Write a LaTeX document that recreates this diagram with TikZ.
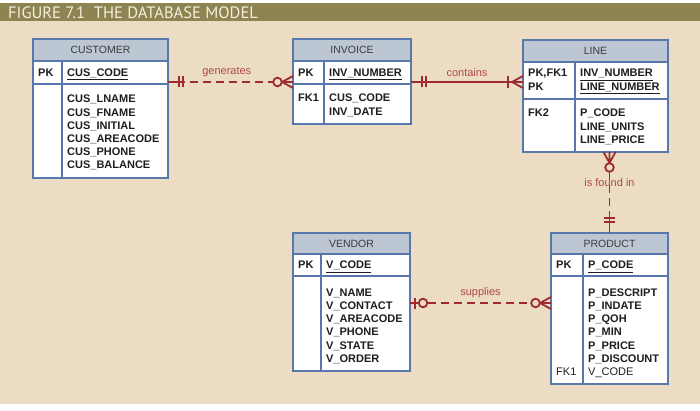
\documentclass[tikz,border=0pt]{standalone}
\usepackage{fontspec}
\setmainfont{Liberation Sans}
\newfontfamily\titlefont{PT Sans}
\usetikzlibrary{calc}
\definecolor{bg}{HTML}{EBDCC3}
\definecolor{olivebar}{HTML}{8E8452}
\definecolor{titletxt}{HTML}{F4EEDC}
\definecolor{tblue}{HTML}{5877AC}
\definecolor{tgray}{HTML}{BCC7D3}
\definecolor{relred}{HTML}{9E2B2E}
\definecolor{lblred}{HTML}{B0484A}
\definecolor{txt}{HTML}{1E1E1E}
\definecolor{hdr}{HTML}{3C3C3C}
\begin{document}
\begin{tikzpicture}[x=1pt,y=-1pt,
  tbl/.style={draw=tblue, line width=1.4pt, inner sep=0pt, outer sep=0pt, anchor=north west},
  ttl/.style={tbl, fill=tgray, font=\fontsize{10.5}{12}\selectfont, text=hdr},
  cell/.style={tbl, fill=white},
  divline/.style={draw=tblue, line width=1.4pt},
  attr/.style={font=\fontsize{11}{13}\selectfont\bfseries, text=txt, inner sep=0pt, anchor=base west},
  attrn/.style={font=\fontsize{11}{13}\selectfont, text=txt, inner sep=0pt, anchor=base west},
  lbl/.style={font=\fontsize{11}{13}\selectfont, text=lblred, inner sep=0pt},
  rel/.style={draw=relred, line width=1.8pt},
  reld/.style={rel, dash pattern=on 8pt off 5pt},
  pics/manyzero/.style={code={
     \draw[rel] (-11,0) -- (0,-6) (-11,0) -- (0,0) (-11,0) -- (0,6);
     \draw[rel, fill=bg] (-15.5,0) circle[radius=4.3];}},
  pics/manyone/.style={code={
     \draw[rel] (-11,0) -- (0,-6) (-11,0) -- (0,6);
     \draw[rel] (-15,-6) -- (-15,6);}},
  pics/oneone/.style={code={
     \draw[rel] (-11,-5.5) -- (-11,5.5) (-15,-5.5) -- (-15,5.5);}},
  pics/zeroone/.style={code={
     \draw[rel] (-5,-5.5) -- (-5,5.5);
     \draw[rel, fill=bg] (-13,0) circle[radius=4.3];}},
]
\useasboundingbox (0,0) rectangle (700,411);
\fill[white] (0,0) rectangle (700,411);
\fill[bg] (0,21) rectangle (700,404);
\fill[olivebar] (0,3) rectangle (700,21);
\node[font=\titlefont\fontsize{16.5}{18}\selectfont, text=titletxt, anchor=west, inner sep=0pt] (title) at (8,12.5) {FIGURE 7.1\ \ THE DATABASE MODEL};

% CUSTOMER
\node[ttl, minimum width=135pt, minimum height=22pt] (custT) at (33,39) {CUSTOMER};
\node[cell, minimum width=135pt, minimum height=23pt] (custK) at (custT.south west) {};
\node[cell, minimum width=135pt, minimum height=94pt] (custB) at (custK.south west) {};
\draw[divline] ($(custK.north west)+(29,0)$) -- ($(custB.south west)+(29,0)$);
\node[attr] (custPK) at (38,76.5) {PK};
\node[attr] (custKey) at (67,76.5) {\underline{CUS\_CODE}};
\foreach \nm [count=\i from 0] in {CUS\_LNAME,CUS\_FNAME,CUS\_INITIAL,CUS\_AREACODE,CUS\_PHONE,CUS\_BALANCE}
  \node[attr] (cust\i) at (67,103+13.2*\i) {\nm};

% INVOICE
\node[ttl, minimum width=118pt, minimum height=22pt] (invT) at (293,39) {INVOICE};
\node[cell, minimum width=118pt, minimum height=23pt] (invK) at (invT.south west) {};
\node[cell, minimum width=118pt, minimum height=40pt] (invB) at (invK.south west) {};
\draw[divline] ($(invK.north west)+(31,0)$) -- ($(invB.south west)+(31,0)$);
\node[attr] (invPK) at (298,76.5) {PK};
\node[attr] (invKey) at (329,76.5) {\underline{INV\_NUMBER}};
\node[attr] (invFK) at (298,102) {FK1};
\node[attr] (inv0) at (329,102) {CUS\_CODE};
\node[attr] (inv1) at (329,115.5) {INV\_DATE};

% LINE
\node[ttl, minimum width=145pt, minimum height=22pt] (lineT) at (523,40) {LINE};
\node[cell, minimum width=145pt, minimum height=37pt] (lineK) at (lineT.south west) {};
\node[cell, minimum width=145pt, minimum height=53pt] (lineB) at (lineK.south west) {};
\draw[divline] ($(lineK.north west)+(52,0)$) -- ($(lineB.south west)+(52,0)$);
\node[attr] (linePK1) at (528,77) {PK,FK1};
\node[attr] (linePK2) at (528,90.5) {PK};
\node[attr] (lineKey1) at (580,77) {\underline{INV\_NUMBER}};
\node[attr] (lineKey2) at (580,90.5) {\underline{LINE\_NUMBER}};
\node[attr] (lineFK) at (528,117) {FK2};
\foreach \nm [count=\i from 0] in {P\_CODE,LINE\_UNITS,LINE\_PRICE}
  \node[attr] (line\i) at (580,117+13.5*\i) {\nm};

% VENDOR
\node[ttl, minimum width=117pt, minimum height=21pt] (vendT) at (293,233) {VENDOR};
\node[cell, minimum width=117pt, minimum height=22pt] (vendK) at (vendT.south west) {};
\node[cell, minimum width=117pt, minimum height=95pt] (vendB) at (vendK.south west) {};
\draw[divline] ($(vendK.north west)+(28,0)$) -- ($(vendB.south west)+(28,0)$);
\node[attr] (vendPK) at (298,269) {PK};
\node[attr] (vendKey) at (326,269) {\underline{V\_CODE}};
\foreach \nm [count=\i from 0] in {V\_NAME,V\_CONTACT,V\_AREACODE,V\_PHONE,V\_STATE,V\_ORDER}
  \node[attr] (vend\i) at (326,296+13.3*\i) {\nm};

% PRODUCT
\node[ttl, minimum width=117pt, minimum height=21pt] (prodT) at (551,233) {PRODUCT};
\node[cell, minimum width=117pt, minimum height=22pt] (prodK) at (prodT.south west) {};
\node[cell, minimum width=117pt, minimum height=108pt] (prodB) at (prodK.south west) {};
\draw[divline] ($(prodK.north west)+(32,0)$) -- ($(prodB.south west)+(32,0)$);
\node[attr] (prodPK) at (556,269) {PK};
\node[attr] (prodKey) at (588,269) {\underline{P\_CODE}};
\foreach \nm [count=\i from 0] in {P\_DESCRIPT,P\_INDATE,P\_QOH,P\_MIN,P\_PRICE,P\_DISCOUNT}
  \node[attr] (prod\i) at (588,296+13.3*\i) {\nm};
\node[attrn] (prodFK) at (556,375.8) {FK1};
\node[attrn] (prod6) at (588,375.8) {V\_CODE};

% generates
\coordinate (g1) at ([yshift=2pt]custK.south east);
\coordinate (g2) at ([yshift=2pt]invK.south west);
\draw[rel] (g1) -- ($(g1)+(17,0)$);
\draw[reld] ($(g1)+(22,0)$) -- ($(g2)+(-20,0)$);
\pic[rotate=180] at (g1) {oneone};
\pic at (g2) {manyzero};
\node[lbl] (genL) at ($(g1)!0.47!(g2)+(0,-10)$) {generates};

% contains
\coordinate (c1) at ([yshift=2pt]invK.south east);
\coordinate (c2) at ([yshift=-20pt]lineK.north west);
\draw[rel] (c1) -- (c2);
\pic[rotate=180] at (c1) {oneone};
\pic at (c2) {manyone};
\node[lbl] (conL) at ($(c1)!0.5!(c2)+(0,-9)$) {contains};

% is found in
\coordinate (f1) at (lineB.south -| prodT.north);
\coordinate (f2) at (prodT.north);
\draw[reld] ($(f1)+(0,20)$) -- ($(f2)+(0,-25)$);
\draw[rel] ($(f2)+(0,-22)$) -- (f2);
\pic[rotate=90] at (f1) {manyzero};
\pic[rotate=-90] at (f2) {oneone};
\node[lbl] (fndL) at ($(f1)!0.38!(f2)$) {is found in};

% supplies
\coordinate (s1) at ([yshift=-27pt]vendB.north east);
\coordinate (s2) at ([yshift=-27pt]prodB.north west);
\draw[rel] (s1) -- ($(s1)+(9,0)$);
\draw[reld] ($(s1)+(18,0)$) -- ($(s2)+(-20,0)$);
\pic[rotate=180] at (s1) {zeroone};
\pic at (s2) {manyzero};
\node[lbl] (supL) at ($(s1)!0.5!(s2)+(0,-10)$) {supplies};
\end{tikzpicture}
\end{document}
